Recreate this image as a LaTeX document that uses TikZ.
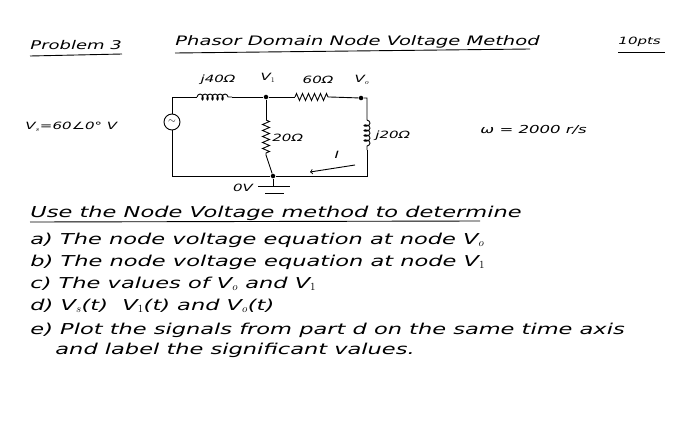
\documentclass[tikz,border=0pt]{standalone}
\usepackage{fontspec}
\setmainfont[FakeStretch=1.5]{DejaVu Sans}
\usetikzlibrary{decorations.pathmorphing}
\begin{document}
\begin{tikzpicture}[x=1pt,y=-1pt,line width=0.9pt,
  txt/.style={anchor=west,inner sep=0pt,font=\fontsize{15}{15}\selectfont\itshape},
  lbl/.style={inner sep=0pt,font=\fontsize{10}{10}\selectfont\itshape},
  dot/.style={circle,fill,inner sep=1.6pt},
  coilh/.style={decorate,decoration={coil,aspect=0.6,segment length=5pt,amplitude=3pt}},
  zig/.style={decorate,decoration={zigzag,segment length=6pt,amplitude=3.5pt}}]
\useasboundingbox (0,0) rectangle (700,439);
% headings
\node[txt,font=\fontsize{12}{12}\selectfont\itshape] (p3) at (30,45) {Problem 3};
\draw (30,56) -- (122,54);
\node[txt,font=\fontsize{13}{13}\selectfont\itshape] (ttl) at (175,42) {Phasor Domain Node Voltage Method};
\draw (175,53) -- (530,49);
\node[txt,font=\fontsize{10}{10}\selectfont\itshape] (pts) at (618,42) {10pts};
\draw (618,52) -- (665,52);
% circuit
\coordinate (tl) at (172,97);
\coordinate (bl) at (172,176);
\node[dot] (v1) at (266,97) {};
\node[dot] (vo) at (361,98) {};
\node[dot] (gnd) at (273,176) {};
\coordinate (br) at (367,176);
\node[circle,draw,minimum size=16pt,inner sep=0pt] (src) at (172,122) {$\sim$};
\coordinate (l1a) at (197,97); \coordinate (l1b) at (232,97);
\coordinate (r1a) at (295,97); \coordinate (r1b) at (330,97);
\coordinate (r2a) at (266,120); \coordinate (r2b) at (266,155);
\coordinate (l2a) at (367,120); \coordinate (l2b) at (367,150);
\draw (src) -- (tl) -- (l1a);
\draw[coilh] (l1a) -- (l1b);
\draw (l1b) -- (v1) -- (r1a);
\draw[zig] (r1a) -- (r1b);
\draw (r1b) -- (vo) -- (367,98) -- (l2a);
\draw[coilh] (l2a) -- (l2b);
\draw (l2b) -- (br) -- (gnd) -- (bl) -- (src);
\draw (v1) -- (r2a);
\draw[zig] (r2a) -- (r2b);
\draw (r2b) -- (gnd);
\draw (gnd) -- (273,186);
\draw (258,186) -- (290,186); \draw (265,193) -- (284,193);
\node[lbl] (gl) at (243,188) {0V};
\node[lbl] (l1l) at (218,80) {j40Ω};
\node[lbl] (v1l) at (268,78) {V$_1$};
\node[lbl] (r1l) at (318,80) {60Ω};
\node[lbl] (vol) at (362,80) {V$_o$};
\node[lbl,anchor=west] (r2l) at (272,138) {20Ω};
\node[lbl,anchor=west] (l2l) at (375,136) {j20Ω};
\node[lbl] (il) at (336,155) {$\mathit{I}$};
\draw[->] (355,165) -- (310,172);
\node[txt,font=\fontsize{10}{10}\selectfont\itshape] (vs) at (25,127) {V$_s$=60∠0° V};
\node[txt,font=\fontsize{11}{11}\selectfont\itshape] (w) at (480,130) {ω = 2000 r/s};
% questions
\node[txt] (q0) at (30,213) {Use the Node Voltage method to determine};
\draw (30,222) -- (480,221);
\node[txt] (qa) at (30,240) {a) The node voltage equation at node V$_o$};
\node[txt] (qb) at (30,262) {b) The node voltage equation at node V$_1$};
\node[txt] (qc) at (30,284) {c) The values of V$_o$ and V$_1$};
\node[txt] (qd) at (30,306) {d) V$_s$(t) \ V$_1$(t) and V$_o$(t)};
\node[txt] (qe) at (30,330) {e) Plot the signals from part d on the same time axis};
\node[txt] (qf) at (55,350) {and label the significant values.};
\end{tikzpicture}
\end{document}
